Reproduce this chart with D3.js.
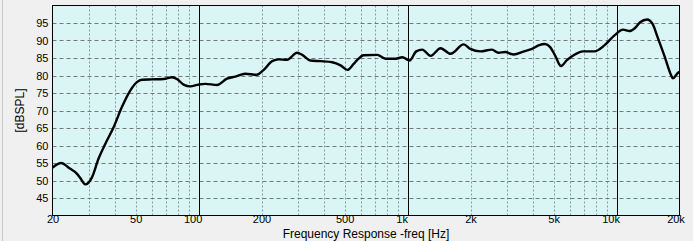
<!DOCTYPE html>
<html><head><meta charset="utf-8">
<script src="https://cdn.jsdelivr.net/npm/d3@7"></script>
<style>
html,body{margin:0;padding:0;background:#f0f0f0;}
svg{display:block;}
text{font-family:"Liberation Sans",Arial,sans-serif;fill:#000;}
</style></head>
<body>
<svg id="c" width="693" height="241"></svg>
<script>
const freqs = [20, 22, 24, 26.2, 27.1, 28.7, 30.9, 33.2, 35.8, 39.2, 42.9, 47.1, 50.7, 53.6, 59.8, 68, 74.7, 78.8, 84.8, 91.3,
  100, 107.6, 122.6, 136.7, 150, 167, 190, 205, 225, 242, 265, 296, 313, 342, 383, 436, 478, 515, 552, 572, 616, 716, 784, 877, 943,
  1024, 1100, 1175, 1290, 1438, 1606, 1856, 1996, 2230, 2532, 2720, 2930, 3218, 3604, 3938, 4232, 4556, 4810, 5082, 5424, 5770,
  6198, 6912, 7840, 8740, 9740, 10740, 11540, 12220, 12960, 14000, 14840, 15720, 16920, 18260, 18580, 19800, 20000];
const spl = [53.7, 55.0, 53.6, 51.9, 50.8, 48.9, 50.9, 56.2, 60.5, 65.2, 70.9, 75.7, 78.1, 78.8, 78.9, 79.0, 79.5, 79.0, 77.4, 76.9,
  77.4, 77.6, 77.3, 79.1, 79.7, 80.5, 80.2, 81.6, 84.1, 84.6, 84.5, 86.5, 85.9, 84.3, 84.1, 83.8, 82.9, 81.6, 83.3, 84.3, 85.8, 85.9, 84.8, 84.8, 85.2,
  84.3, 86.9, 87.4, 85.6, 87.8, 86.2, 88.9, 87.6, 86.9, 87.4, 86.5, 86.7, 86.0, 86.9, 87.6, 88.6, 89.0, 88.1, 85.7, 82.7, 84.3,
  85.7, 86.9, 86.9, 88.6, 91.4, 93.1, 92.7, 93.5, 95.2, 96.0, 94.8, 90.9, 85.7, 80.0, 79.2, 80.9, 81.0];
const xTickValues = [20, 50, 100, 200, 500, 1000, 2000, 5000, 10000, 20000];
const xTickLabels = ["20", "50", "100", "200", "500", "1k", "2k", "5k", "10k", "20k"];
const majorLines = [100, 1000, 10000];
const minorLines = [30, 40, 50, 60, 70, 80, 90, 200, 300, 400, 500, 600, 700, 800, 900,
  2000, 3000, 4000, 5000, 6000, 7000, 8000, 9000];
const yTicks = [45, 50, 55, 60, 65, 70, 75, 80, 85, 90, 95];
const yDomain = [40, 100];
const xLabel = "Frequency Response -freq [Hz]";
const yLabel = "[dBSPL]";

const L = 52.5, R = 679.5, T = 5.5, B = 215.5;
const svg = d3.select("#c");
const x = d3.scaleLog().domain([20, 20000]).range([L, R]);
const y = d3.scaleLinear().domain(yDomain).range([B, T]);

// left window border
svg.append("line").attr("x1", 2.5).attr("x2", 2.5).attr("y1", 0).attr("y2", 241)
  .attr("stroke", "#c9c9c9").attr("stroke-width", 1);

svg.append("rect").attr("x", L).attr("y", T).attr("width", R - L).attr("height", B - T)
  .attr("fill", "#d9f5f5");

// minor vertical grid
svg.append("g").selectAll("line").data(minorLines).join("line")
  .attr("x1", d => Math.round(x(d)) + 0.5).attr("x2", d => Math.round(x(d)) + 0.5)
  .attr("y1", T).attr("y2", B)
  .attr("stroke", "#8a9898").attr("stroke-width", 1).attr("stroke-dasharray", "2,2");

// horizontal grid
svg.append("g").selectAll("line").data(yTicks).join("line")
  .attr("x1", L).attr("x2", R)
  .attr("y1", d => Math.round(y(d)) + 0.5).attr("y2", d => Math.round(y(d)) + 0.5)
  .attr("stroke", "#6f7a7a").attr("stroke-width", 1).attr("stroke-dasharray", "4,3");

// major vertical lines
svg.append("g").selectAll("line").data(majorLines).join("line")
  .attr("x1", d => Math.round(x(d)) + 0.5).attr("x2", d => Math.round(x(d)) + 0.5)
  .attr("y1", T).attr("y2", B)
  .attr("stroke", "#000").attr("stroke-width", 1);

// frame
svg.append("rect").attr("x", L).attr("y", T).attr("width", R - L).attr("height", B - T)
  .attr("fill", "none").attr("stroke", "#000").attr("stroke-width", 1);

// curve
const pts = freqs.map((f, i) => [f, spl[i]]);
svg.append("defs").append("clipPath").attr("id", "clip").append("rect")
  .attr("x", L).attr("y", T).attr("width", R - L).attr("height", B - T);
svg.append("path").datum(pts)
  .attr("clip-path", "url(#clip)")
  .attr("fill", "none").attr("stroke", "#000").attr("stroke-width", 2.4)
  .attr("stroke-linejoin", "round").attr("stroke-linecap", "round")
  .attr("d", d3.line().x(d => x(d[0])).y(d => y(d[1])).curve(d3.curveMonotoneX));

// x axis labels
const xAxis = d3.axisBottom(x).tickValues(xTickValues)
  .tickFormat((d, i) => xTickLabels[i]).tickSize(0).tickPadding(0);
const gx = svg.append("g").attr("transform", `translate(0,${B})`).call(xAxis);
gx.select(".domain").remove();
gx.selectAll("text").attr("font-size", 11).attr("font-family", "Liberation Sans, Arial, sans-serif")
  .attr("fill", "#000")
  .attr("dx", d => (d === 100 || d === 1000 || d === 10000) ? -6 : (d === 20000 ? -4 : 0));

// y axis labels
const yAxis = d3.axisLeft(y).tickValues(yTicks).tickSize(0).tickPadding(4);
const gy = svg.append("g").attr("transform", `translate(${L},0)`).call(yAxis);
gy.select(".domain").remove();
gy.selectAll("text").attr("font-size", 11).attr("font-family", "Liberation Sans, Arial, sans-serif")
  .attr("fill", "#000");

svg.append("text").attr("x", 366).attr("y", 238).attr("text-anchor", "middle")
  .attr("font-size", 12).text(xLabel);
svg.append("text").attr("transform", `translate(24,${(T + B) / 2}) rotate(-90)`)
  .attr("text-anchor", "middle").attr("font-size", 12).text(yLabel);
</script>
</body></html>
